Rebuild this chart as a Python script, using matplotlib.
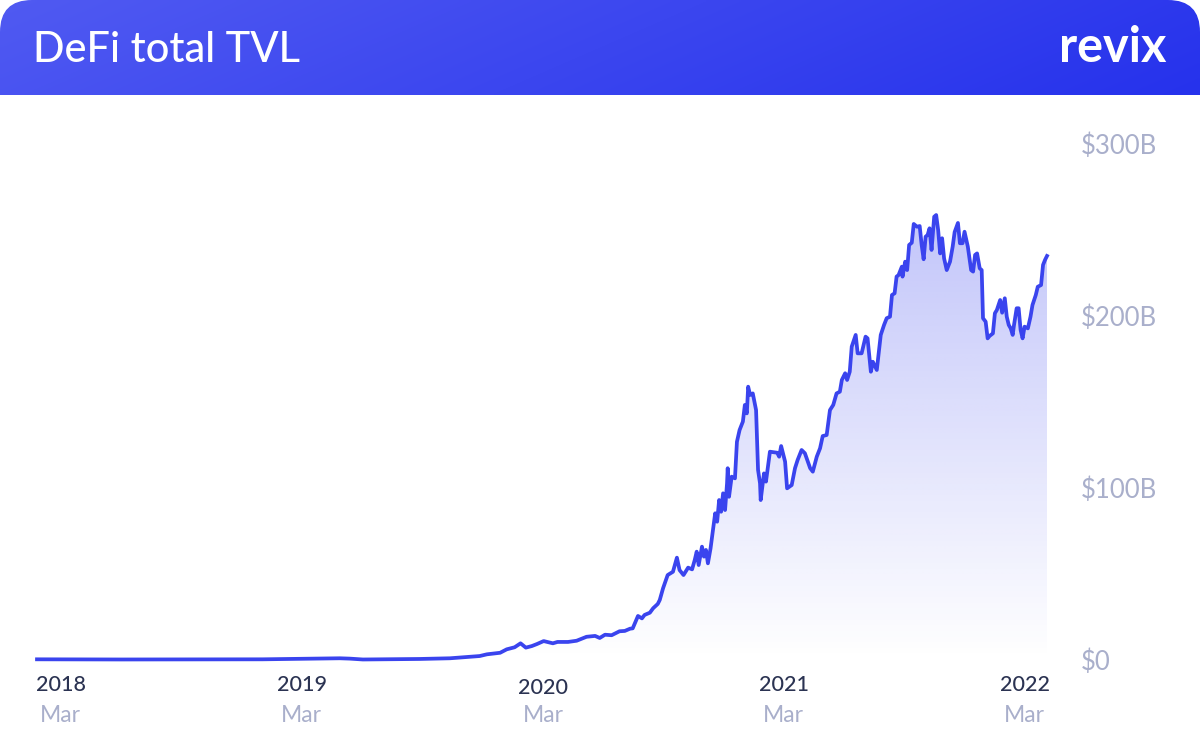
import numpy as np
import pandas as pd
import matplotlib
matplotlib.use("Agg")
import matplotlib.pyplot as plt
import matplotlib.dates as mdates
from matplotlib.patches import FancyBboxPatch

# ---------------- data ----------------
title = "DeFi total TVL"
brand = "revix"

dates = [
    "2018-01-24", "2018-06-01", "2018-10-01", "2019-01-01", "2019-04-28", "2019-05-13",
    "2019-06-02", "2019-08-27", "2019-10-12", "2019-11-26", "2019-12-07", "2019-12-27",
    "2020-01-06", "2020-01-18", "2020-01-27", "2020-02-04", "2020-02-13", "2020-02-21",
    "2020-03-02", "2020-03-16", "2020-03-23", "2020-04-08", "2020-04-21", "2020-05-06",
    "2020-05-19", "2020-05-26", "2020-06-03", "2020-06-13", "2020-06-25", "2020-07-03",
    "2020-07-11", "2020-07-15", "2020-07-23", "2020-07-29", "2020-08-02", "2020-08-10",
    "2020-08-15", "2020-08-22", "2020-08-25", "2020-08-30", "2020-09-06", "2020-09-14",
    "2020-09-20", "2020-09-24", "2020-09-30", "2020-10-07", "2020-10-13", "2020-10-17",
    "2020-10-20", "2020-10-23", "2020-10-28", "2020-10-31", "2020-11-03", "2020-11-06",
    "2020-11-10", "2020-11-13", "2020-11-17", "2020-11-20", "2020-11-23", "2020-11-26",
    "2020-11-29", "2020-12-02", "2020-12-05", "2020-12-06", "2020-12-08", "2020-12-12",
    "2020-12-17", "2020-12-20", "2020-12-24", "2020-12-29", "2021-01-01", "2021-01-04",
    "2021-01-06", "2021-01-09", "2021-01-13", "2021-01-18", "2021-01-21", "2021-01-24",
    "2021-01-25", "2021-01-30", "2021-02-02", "2021-02-08", "2021-02-19", "2021-02-22",
    "2021-02-25", "2021-03-03", "2021-03-06", "2021-03-13", "2021-03-18", "2021-03-22",
    "2021-03-28", "2021-04-02", "2021-04-10", "2021-04-14", "2021-04-20", "2021-04-25",
    "2021-04-29", "2021-05-05", "2021-05-10", "2021-05-15", "2021-05-20", "2021-05-25",
    "2021-05-28", "2021-06-02", "2021-06-05", "2021-06-09", "2021-06-12", "2021-06-18",
    "2021-06-21", "2021-06-27", "2021-07-03", "2021-07-06", "2021-07-11", "2021-07-14",
    "2021-07-20", "2021-07-26", "2021-07-31", "2021-08-04", "2021-08-09", "2021-08-12",
    "2021-08-16", "2021-08-19", "2021-08-22", "2021-08-27", "2021-08-28", "2021-09-01",
    "2021-09-04", "2021-09-07", "2021-09-11", "2021-09-14", "2021-09-19", "2021-09-23",
    "2021-09-26", "2021-09-29", "2021-10-02", "2021-10-05", "2021-10-08", "2021-10-11",
    "2021-10-15", "2021-10-18", "2021-10-21", "2021-10-24", "2021-10-27", "2021-10-30",
    "2021-11-03", "2021-11-08", "2021-11-12", "2021-11-15", "2021-11-20", "2021-11-23",
    "2021-11-27", "2021-11-30", "2021-12-05", "2021-12-10", "2021-12-13", "2021-12-16",
    "2021-12-19", "2021-12-23", "2021-12-26", "2021-12-28", "2022-01-01", "2022-01-04",
    "2022-01-07", "2022-01-12", "2022-01-15", "2022-01-18", "2022-01-23", "2022-01-26",
    "2022-01-30", "2022-02-02", "2022-02-05", "2022-02-08", "2022-02-11", "2022-02-13",
    "2022-02-17", "2022-02-20", "2022-02-23", "2022-02-26", "2022-03-01", "2022-03-06",
    "2022-03-10", "2022-03-13", "2022-03-18", "2022-03-21", "2022-03-26", "2022-03-29",
    "2022-04-01", "2022-04-04",
]

tvl_billions = [
    0.4, 0.3, 0.35, 0.4, 1.0, 0.8,
    0.3, 0.6, 1.0, 2.3, 3.3, 4.2,
    6.2, 7.4, 9.7, 7.2, 8.1, 9.3,
    11.0, 9.7, 10.5, 10.5, 11.2, 13.5,
    14.0, 12.8, 14.7, 14.4, 16.7, 16.9,
    18.2, 18.4, 25.6, 24.2, 26.2, 27.5,
    30.1, 32.6, 34.9, 41.7, 49.4, 51.3,
    59.5, 52.3, 49.4, 53.7, 52.7, 58.1,
    63.0, 55.2, 65.9, 60.1, 64.0, 56.2,
    64.9, 73.7, 85.3, 80.4, 93.0, 86.2,
    96.9, 87.2, 102.7, 111.5, 94.9, 106.6,
    105.6, 126.9, 133.7, 138.6, 148.3, 143.4,
    158.9, 154.1, 155.0, 145.3, 110.5, 102.7,
    93.0, 108.5, 103.7, 121.1, 120.5, 118.2,
    124.4, 115.3, 99.8, 101.7, 111.5, 116.3,
    122.1, 120.2, 111.5, 109.5, 118.2, 123.1,
    130.2, 130.8, 145.3, 148.3, 155.0, 156.0,
    162.8, 166.7, 162.8, 167.6, 182.2, 189.0,
    178.3, 178.3, 188.0, 187.0, 167.6, 173.4,
    168.6, 189.0, 194.8, 198.7, 199.6, 212.2,
    213.2, 222.9, 223.8, 228.7, 222.9, 231.6,
    226.7, 241.3, 242.6, 253.5, 251.9, 252.3,
    241.3, 233.0, 246.1, 247.1, 251.0, 238.4,
    257.7, 258.7, 250.0, 236.4, 245.2, 233.5,
    226.7, 231.6, 240.3, 248.8, 254.1, 242.3,
    242.3, 249.0, 240.3, 226.7, 225.8, 235.5,
    236.4, 227.7, 226.7, 198.7, 196.7, 187.0,
    188.4, 189.9, 201.6, 203.5, 209.3, 201.9,
    210.3, 199.6, 194.8, 192.8, 189.0, 194.8,
    204.5, 204.5, 191.9, 187.0, 193.8, 192.8,
    199.6, 206.4, 212.2, 217.0, 218.0, 229.7,
    232.6, 234.9,
]

tick_dates = ["2018-03-01", "2019-03-01", "2020-03-01", "2021-03-01", "2022-03-01"]
tick_years = ["2018", "2019", "2020", "2021", "2022"]
tick_month = "Mar"
y_ticks = [0, 100, 200, 300]
y_tick_labels = ["$0", "$100B", "$200B", "$300B"]

# ---------------- style ----------------
FONT = "Lato"
LINE_COLOR = "#3A44EE"
YEAR_COLOR = "#2B3352"
MUTED = "#A9AFCB"

W, H = 1200, 743
fig = plt.figure(figsize=(W / 100, H / 100), dpi=100)
fig.patch.set_facecolor("white")

# ---------------- header band ----------------
HB = 95
hax = fig.add_axes([0, 1 - HB / H, 1, HB / H])
hax.set_xlim(0, W)
hax.set_ylim(HB, 0)
hax.axis("off")
c_left = np.array([80, 90, 242]) / 255.0
c_right = np.array([38, 50, 236]) / 255.0
gx = np.linspace(0, 1, 300)[None, :]
gy = np.linspace(0, 1, 30)[:, None]
t = np.clip(0.85 * gx + 0.15 * gy, 0, 1)
grad = (c_left[None, None, :] * (1 - t[..., None]) + c_right[None, None, :] * t[..., None])
box = FancyBboxPatch((0, 0), W, 200, boxstyle="round,pad=0,rounding_size=32",
                     transform=hax.transData, facecolor="none", edgecolor="none")
hax.add_patch(box)
im = hax.imshow(grad, extent=[0, W, HB, 0], aspect="auto", interpolation="bilinear")
im.set_clip_path(box)
hax.text(33, 50, title, ha="left", va="center", fontsize=30, color="white",
         family=FONT, fontweight="medium")
hax.text(1166, 47, brand, ha="right", va="center", fontsize=35, color="white",
         family=FONT, fontweight="bold")

# ---------------- chart ----------------
x = mdates.date2num(pd.to_datetime(dates))
y = np.array(tvl_billions)

ax = fig.add_axes([37 / W, (H - 660) / H, 1010 / W, 516 / H])
ax.set_xlim(x[0], x[-1])
ax.set_ylim(0, 300)
for s in ax.spines.values():
    s.set_visible(False)

# gradient fill under the line
ymax_grad = 260.0
n = 256
alpha = np.linspace(0.31, 0.0, n)
rgba = np.zeros((n, 2, 4))
lc = np.array(matplotlib.colors.to_rgb(LINE_COLOR))
rgba[..., :3] = lc
rgba[..., 3] = alpha[:, None]
fill = ax.fill_between(x, 0, y, facecolor="none", edgecolor="none")
gim = ax.imshow(rgba, extent=[x[0], x[-1], 0, ymax_grad], aspect="auto",
                origin="upper", interpolation="bilinear", zorder=1)
gim.set_clip_path(fill.get_paths()[0], transform=ax.transData)
ax.set_xlim(x[0], x[-1])
ax.set_ylim(0, 300)

ax.plot(x, y, color=LINE_COLOR, lw=2.7, solid_joinstyle="round", zorder=3, clip_on=False)

ax.set_xticks([])
ax.yaxis.tick_right()
ax.set_yticks(y_ticks)
ax.set_yticklabels(y_tick_labels)
ax.tick_params(axis="y", length=0, pad=24, labelsize=18.5, labelcolor=MUTED)
for lbl in ax.get_yticklabels():
    lbl.set_family(FONT)

tx = mdates.date2num(pd.to_datetime(tick_dates))
for i, (d, yr) in enumerate(zip(tx, tick_years)):
    off = -28 if yr == "2020" else -25
    ax.annotate(yr, xy=(d, 0), xycoords=("data", "axes fraction"),
                xytext=(0, off * 0.72), textcoords="offset points",
                ha="center", va="center", fontsize=15.5, color=YEAR_COLOR, family=FONT,
                fontweight="medium")
    ax.annotate(tick_month, xy=(d, 0), xycoords=("data", "axes fraction"),
                xytext=(0, -55.5 * 0.72), textcoords="offset points",
                ha="center", va="center", fontsize=16.5, color=MUTED, family=FONT)

fig.savefig("out.png", dpi=100, facecolor="white")
